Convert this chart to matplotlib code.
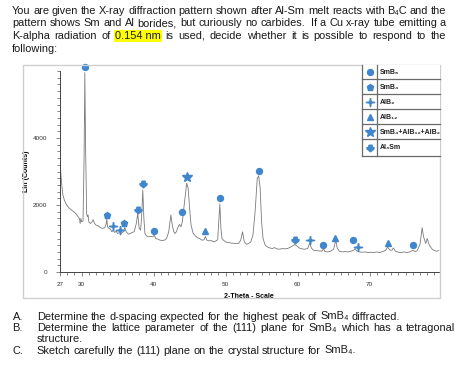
import matplotlib
matplotlib.use('Agg')
import matplotlib.pyplot as plt
from matplotlib.path import Path
from matplotlib.patches import Rectangle

plt.rcParams['font.family'] = ['Liberation Sans', 'DejaVu Sans']

# XRD pattern (2-theta, counts)
two_theta = [27.0, 27.2, 27.4, 27.6, 27.8, 28.0, 28.3, 28.6, 28.9, 29.1, 29.3, 29.5, 29.7,
             29.8, 29.9, 30.0, 30.2, 30.35, 30.45, 30.55, 30.7, 30.8, 30.9, 31.0, 31.2,
             31.4, 31.6, 31.8, 32.0, 32.3, 32.6, 32.9, 33.2, 33.4, 33.5, 33.6, 33.8, 34.0,
             34.2, 34.4, 34.6, 34.8, 35.0, 35.3, 35.5, 35.8, 36.0, 36.2, 36.5, 36.8, 37.0,
             37.3, 37.6, 37.8, 38.0, 38.2, 38.35, 38.5, 38.65, 38.8, 39.0, 39.3, 39.6,
             39.9, 40.1, 40.3, 40.6, 40.9, 41.2, 41.5, 41.8, 42.1, 42.4, 42.6, 42.8, 43.0,
             43.2, 43.4, 43.6, 43.8, 44.0, 44.3, 44.6, 44.8, 45.0, 45.2, 45.5, 45.8, 46.1,
             46.4, 46.7, 47.0, 47.2, 47.4, 47.7, 48.0, 48.3, 48.6, 48.9, 49.05, 49.2,
             49.35, 49.5, 49.7, 50.0, 50.3, 50.6, 51.0, 51.4, 51.8, 52.1, 52.35, 52.6,
             52.9, 53.2, 53.5, 53.8, 54.1, 54.4, 54.6, 54.8, 55.0, 55.2, 55.5, 55.8, 56.1,
             56.5, 56.8, 57.1, 57.5, 57.9, 58.3, 58.7, 59.0, 59.3, 59.6, 59.9, 60.2, 60.6,
             61.0, 61.4, 61.7, 61.9, 62.2, 62.6, 63.0, 63.4, 63.6, 63.8, 64.2, 64.6, 65.0,
             65.3, 65.5, 65.8, 66.2, 66.6, 67.0, 67.4, 67.8, 68.0, 68.2, 68.6, 69.0, 69.4,
             69.8, 70.2, 70.6, 71.0, 71.4, 71.8, 72.2, 72.5, 72.8, 73.1, 73.3, 73.6, 74.0,
             74.4, 74.8, 75.2, 75.6, 76.0, 76.3, 76.6, 77.0, 77.3, 77.5, 77.8, 78.0, 78.3,
             78.7, 79.0, 79.3, 79.6]
counts = [3300, 2700, 2300, 2150, 2050, 1980, 1900, 1850, 1800, 1760, 1720, 1650, 1600,
          1450, 1600, 1500, 1520, 3500, 5950, 3800, 1750, 1650, 1700, 1500, 1450,
          1480, 1560, 1450, 1400, 1380, 1330, 1300, 1320, 1420, 1580, 1350, 1300, 1280,
          1200, 1250, 1180, 1220, 1150, 1180, 1150, 1200, 1330, 1200, 1130, 1150, 1180,
          1200, 1450, 1750, 1300, 1250, 1700, 2450, 1600, 1150, 1080, 1050, 1060,
          1050, 1100, 1000, 980, 950, 940, 950, 1000, 1200, 1700, 1400, 1200, 1150,
          1220, 1350, 1420, 1350, 1500, 2100, 2650, 2500, 1900, 1400, 1150, 1080, 1020,
          1000, 950, 960, 1060, 950, 930, 940, 900, 920, 960, 1500, 2030,
          1300, 1000, 950, 900, 880, 870, 860, 850, 850, 950, 1200, 900,
          830, 850, 900, 1100, 1800, 2800, 2870, 2500, 1500, 1000, 800, 750, 720,
          700, 730, 690, 680, 700, 690, 710, 740, 780, 820, 780, 720, 690,
          680, 700, 870, 720, 650, 640, 630, 620, 700, 610, 600, 620, 680,
          950, 720, 620, 600, 610, 600, 620, 650, 700, 630, 600, 590, 600,
          580, 590, 580, 600, 580, 610, 640, 740, 660, 650, 720, 620, 590,
          580, 600, 580, 600, 650, 610, 630, 820, 1320, 1050, 850, 1000, 800,
          680, 640, 620, 640]

# phase markers (2-theta, counts)
smb6_x = [30.46, 40.05, 43.9, 49.2, 54.6, 63.55, 67.7, 76.0]
smb6_y = [6110, 1225, 1800, 2210, 3025, 806, 950, 806]
smb4_x = [33.52, 35.93]
smb4_y = [1700, 1460]
alb2_x = [34.4, 35.4, 61.7, 68.4]
alb2_y = [1380, 1250, 950, 755]
alb12_x = [47.2, 65.2, 72.55]
alb12_y = [1210, 1025, 855]
mix_x = [44.58]
mix_y = [2830]
al3sm_x = [37.85, 38.5, 59.7]
al3sm_y = [1850, 2630, 955]

legend_labels = ['SmB₆', 'SmB₄', 'AlB₂', 'AlB₁₂', 'SmB₄+AlB₁₂+AlB₂', 'Al₃Sm']

blue = '#3f86cc'

star4 = Path([(0, 1), (0.16, 0.16), (1, 0), (0.16, -0.16), (0, -1),
              (-0.16, -0.16), (-1, 0), (-0.16, 0.16), (0, 1)])
arrow = Path([(-0.45, 0.9), (0.45, 0.9), (0.45, 0.25), (0.95, 0.25), (0.95, -0.1),
              (0, -0.9), (-0.95, -0.1), (-0.95, 0.25), (-0.45, 0.25), (-0.45, 0.9)])

styles = [('o', 4.3), ('p', 4.8), (star4, 6.0), ('^', 4.6), ('*', 7.0), (arrow, 5.0)]

W, H = 469, 376
fig = plt.figure(figsize=(W / 100, H / 100), dpi=100)

# main plot, placed in pixels
left, right, bottom, top = 60, 438.7, 272, 71
ax = fig.add_axes([left / W, 1 - bottom / H, (right - left) / W, (bottom - top) / H])
ax.patch.set_visible(False)
ax.plot(two_theta, counts, color='#7a7a7a', lw=0.6)

series = [(smb6_x, smb6_y), (smb4_x, smb4_y), (alb2_x, alb2_y),
          (alb12_x, alb12_y), (mix_x, mix_y), (al3sm_x, al3sm_y)]
for (xs, ys), (m, ms) in zip(series, styles):
    ax.plot(xs, ys, ls='none', marker=m, ms=ms, color=blue, mec=blue, clip_on=False, zorder=5)

ax.set_xlim(27, 79.6)
ax.set_ylim(0, 6000)
ax.set_xticks([27, 30, 40, 50, 60, 70])
ax.set_xticks(range(27, 80), minor=True)
ax.set_yticks([0, 2000, 4000])
ax.set_yticks(range(0, 6001, 200), minor=True)
ax.tick_params(axis='both', which='both', direction='out', color='#555', width=0.5,
               labelsize=4.6, labelcolor='#333')
ax.tick_params(axis='x', which='major', length=3, pad=4)
ax.tick_params(axis='x', which='minor', length=2)
ax.tick_params(axis='y', which='major', length=3, pad=6)
ax.tick_params(axis='y', which='minor', length=2)
for s in ['top', 'right']:
    ax.spines[s].set_visible(False)
for s in ['left', 'bottom']:
    ax.spines[s].set_color('#444')
    ax.spines[s].set_linewidth(0.7)
ax.set_ylabel('Lin (Counts)', fontsize=5, fontweight='bold', labelpad=2)
ax.set_xlabel('2-Theta - Scale', fontsize=5, fontweight='bold', labelpad=4.5)

# overlay in pixel units for frame, legend table and the question text
ov = fig.add_axes([0, 0, 1, 1], zorder=10)
ov.set_xlim(0, W)
ov.set_ylim(H, 0)
ov.axis('off')
ov.patch.set_visible(False)

ov.add_patch(Rectangle((23, 65), 417, 233, fill=False, ec='#cfcfcf', lw=1))

rows = [65, 79.3, 94.3, 109.3, 124.3, 139.3, 156]
ov.add_patch(Rectangle((362, 65), 78, 91, fc='white', ec='none'))
for yy in rows[1:]:
    ov.plot([362, 440], [yy, yy], color='#6a6a6a', lw=0.9)
ov.plot([362, 362], [65, 156], color='#6a6a6a', lw=0.9)
ov.plot([376.7, 376.7], [65, 156], color='#6a6a6a', lw=0.9)
for i, (lab, (m, ms)) in enumerate(zip(legend_labels, styles)):
    yc = (rows[i] + rows[i + 1]) / 2
    ov.plot([370], [yc], marker=m, ms=ms, color=blue, mec=blue, ls='none')
    ov.text(380, yc + 1.8, lab, fontsize=5, fontweight='bold', va='baseline', ha='left', color='#222')

renderer = fig.canvas.get_renderer()
TS = 7.9


def put_line(tokens, x0, y, x1=None, size=TS, **kw):
    # y is the baseline; x1 given -> spread words to fill the line
    texts = [ov.text(x0, y, tok, fontsize=size, va='baseline', ha='left', color='#1a1a1a', **kw)
             for tok in tokens]
    widths = [t.get_window_extent(renderer).width for t in texts]
    if x1 is None or len(tokens) < 2:
        gap = 0.278 * size * 100 / 72
    else:
        gap = (x1 - x0 - sum(widths)) / (len(tokens) - 1)
    x = x0
    for t, w in zip(texts, widths):
        t.set_x(x)
        x += w + gap
    return texts


put_line('You are given the X-ray diffraction pattern shown after Al-Sm melt reacts with B₄C and the'.split(),
         12, 14, 446)
put_line('pattern shows Sm and Al borides, but curiously no carbides.'.split() + [' If', 'a', 'Cu', 'x-ray',
         'tube', 'emitting', 'a'], 12, 26.5, 446)
line3 = put_line(['K-alpha', 'radiation', 'of', '0.154 nm', 'is', 'used,', 'decide', 'whether', 'it', 'is',
                  'possible', 'to', 'respond', 'to', 'the'], 12, 39, 446)
line3[3].set_bbox(dict(fc='#ffff00', ec='none', pad=0.6))
put_line(['following:'], 12, 51.5)

qx = 36.7
ov.text(12.5, 319.5, 'A.', fontsize=TS, va='baseline', color='#1a1a1a')
put_line('Determine the d-spacing expected for the highest peak of SmB₄ diffracted.'.split(), qx, 319.5)
ov.text(12.5, 331, 'B.', fontsize=TS, va='baseline', color='#1a1a1a')
put_line('Determine the lattice parameter of the (111) plane for SmB₄ which has a tetragonal'.split(),
         qx, 331, 455)
put_line(['structure.'], qx, 342)
ov.text(12.5, 353.5, 'C.', fontsize=TS, va='baseline', color='#1a1a1a')
put_line('Sketch carefully the (111) plane on the crystal structure for SmB₄.'.split(), qx, 353.5)

fig.savefig('out.png', dpi=100)
